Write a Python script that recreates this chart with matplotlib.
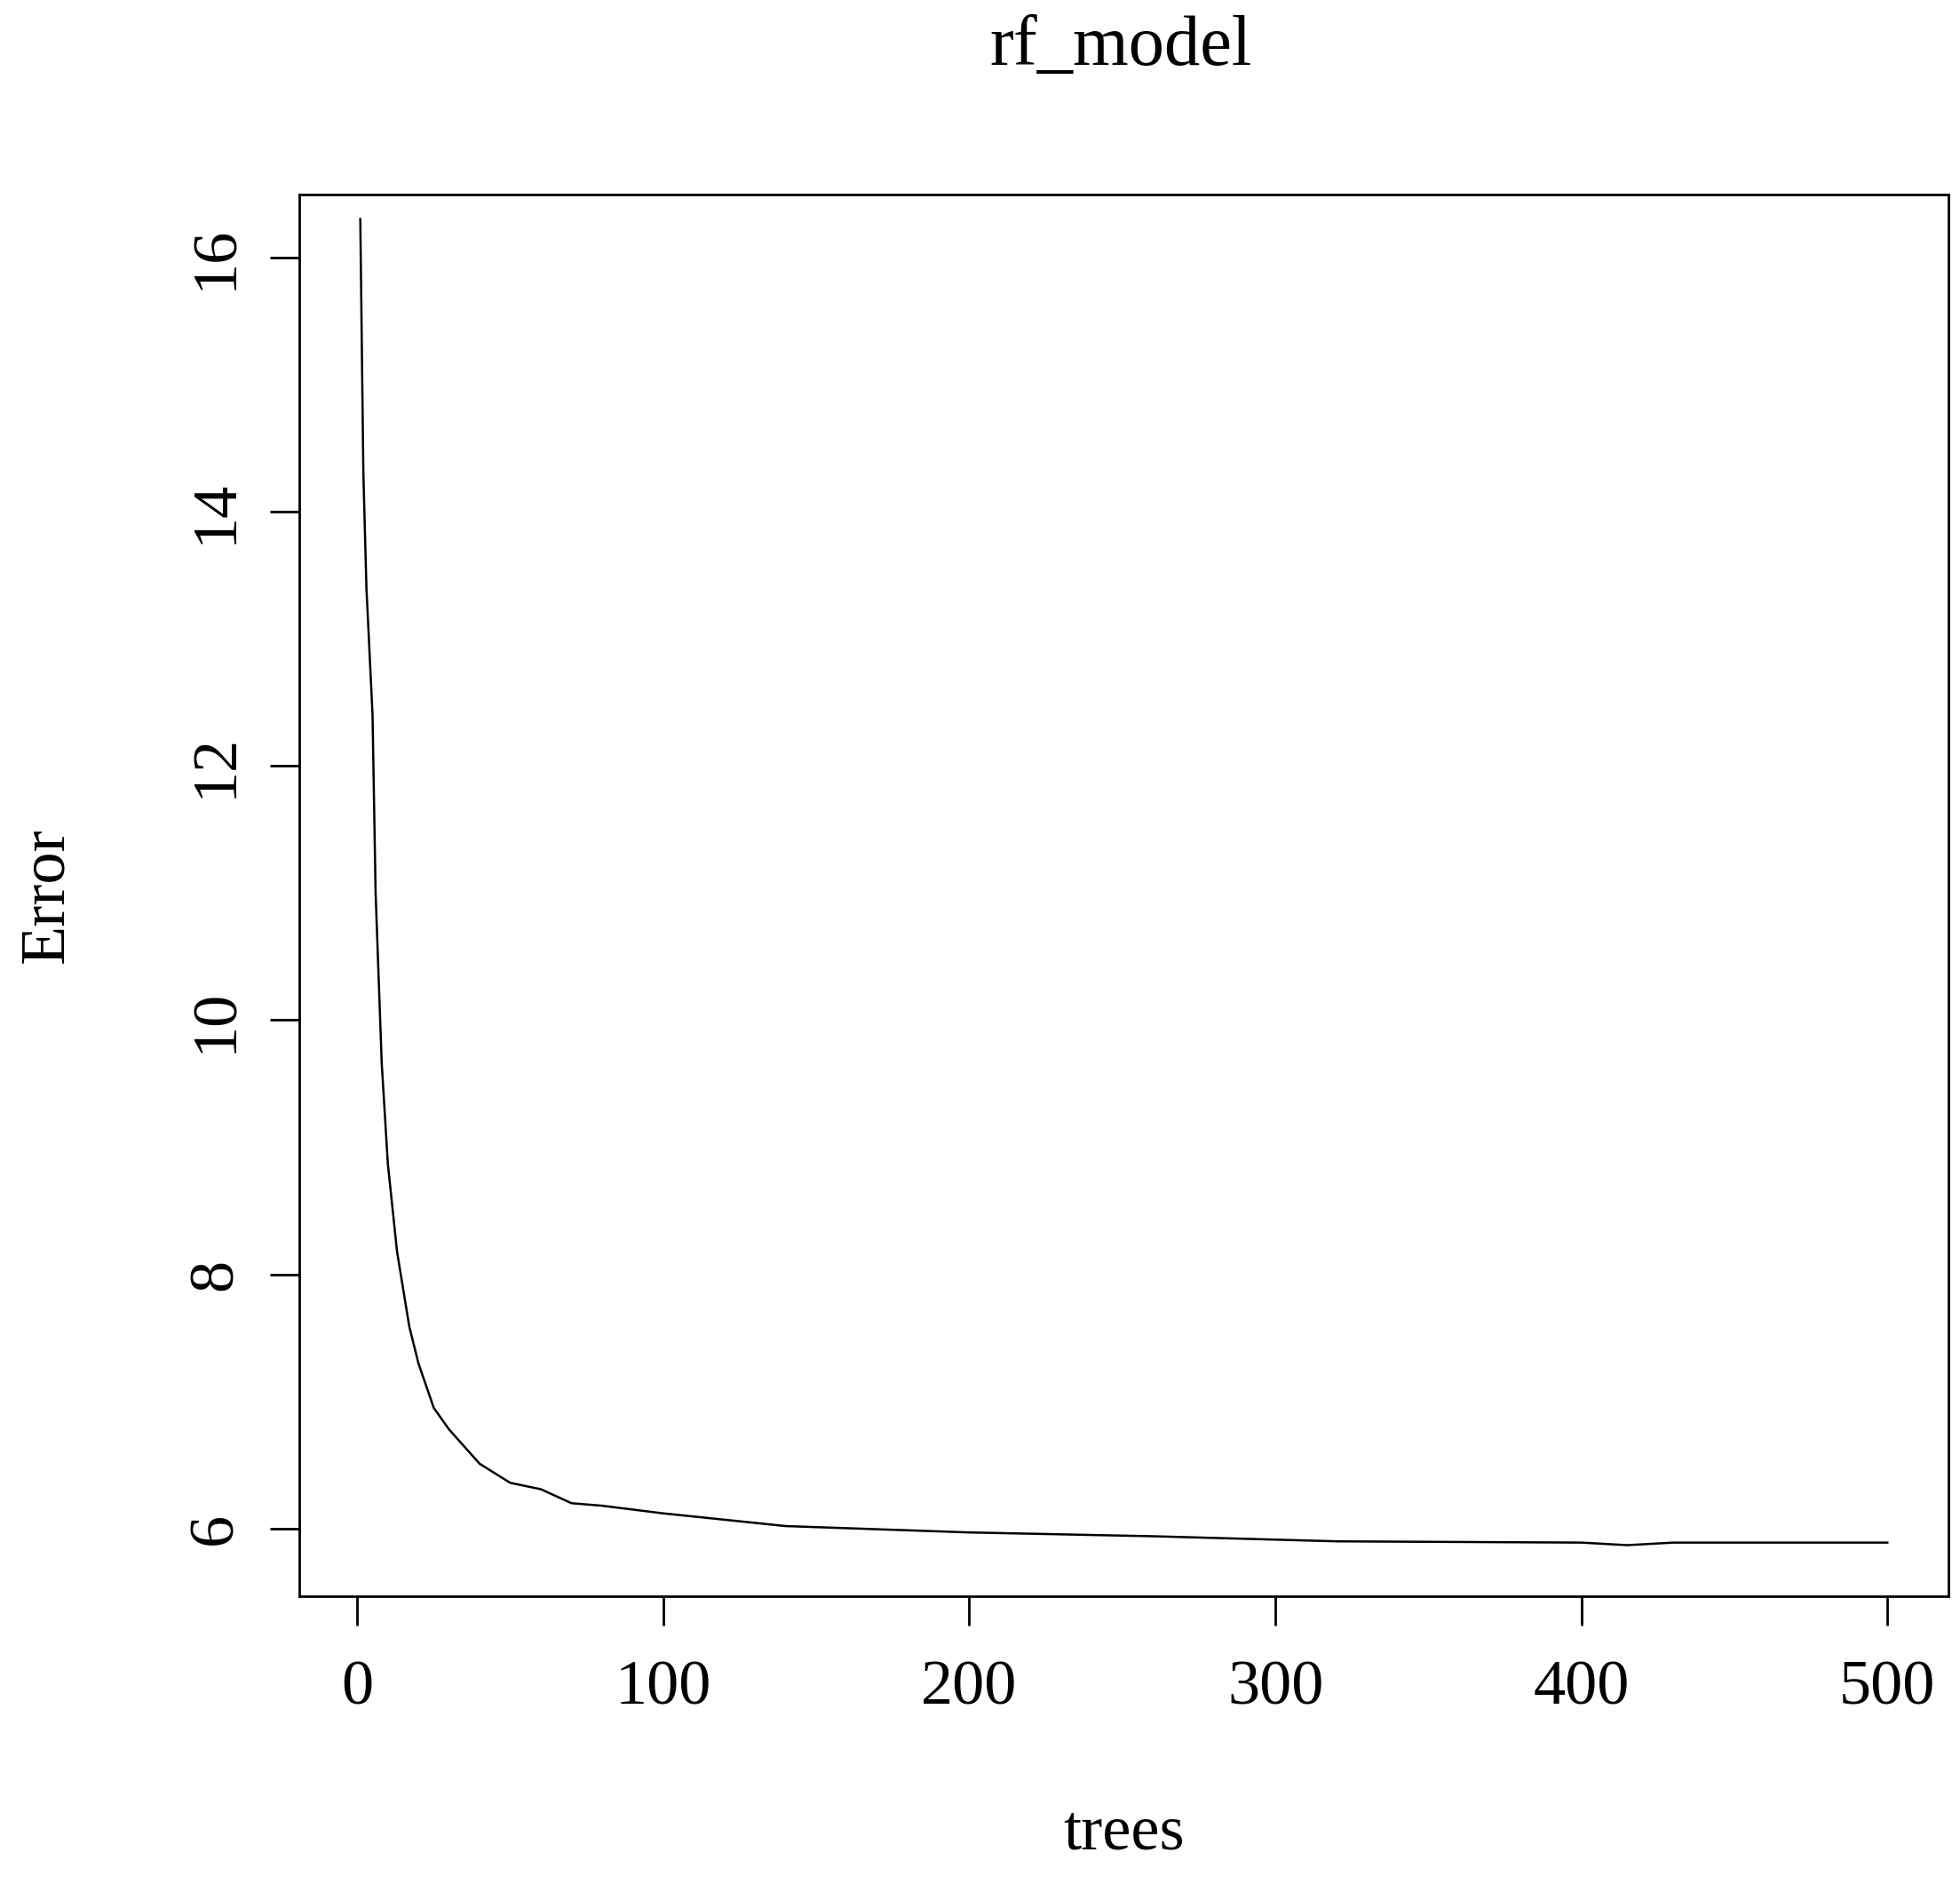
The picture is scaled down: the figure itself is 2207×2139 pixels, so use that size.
import matplotlib
matplotlib.use("Agg")
import matplotlib.pyplot as plt
from matplotlib.patches import Rectangle

trees = [1, 2, 3, 5, 6, 8, 10, 13, 17, 20, 25, 30, 40, 50, 60, 70, 80, 100, 120, 140,
         200, 260, 320, 400, 415, 430, 500]
error = [16.3, 14.3, 13.4, 12.4, 11.0, 9.66, 8.87, 8.18, 7.59, 7.3, 6.95, 6.78, 6.51,
         6.36, 6.31, 6.2, 6.18, 6.12, 6.07, 6.02, 5.97, 5.94, 5.9, 5.89, 5.87, 5.89, 5.89]
xticks = [0, 100, 200, 300, 400, 500]
yticks = [6, 8, 10, 12, 14, 16]

plt.rcParams['font.family'] = ['Liberation Serif', 'DejaVu Serif']
fig = plt.figure(figsize=(22.07, 21.39), dpi=100)
ax = fig.add_axes([0.1526, 0.16, 0.8416, 0.7374])
ax.plot(trees, error, color='black', lw=1.8)
ax.set_xlim(-19, 520)
ax.set_ylim(5.47, 16.49)
ax.set_xticks(xticks)
ax.set_yticks(yticks)
ax.tick_params(labelsize=52, length=24, width=2)
ax.tick_params(axis='x', pad=28)
ax.tick_params(axis='y', pad=20)
for lab in ax.get_yticklabels():
    lab.set_rotation(90)
    lab.set_va('center')
for s in ax.spines.values():
    s.set_linewidth(2)
ax.set_xlabel('trees', fontsize=52, labelpad=70)
ax.set_ylabel('Error', fontsize=52, labelpad=90)
fig.text(0.572, 0.975, 'rf_model', fontsize=58, ha='center', va='center')
fig.savefig('out.png', dpi=100)
